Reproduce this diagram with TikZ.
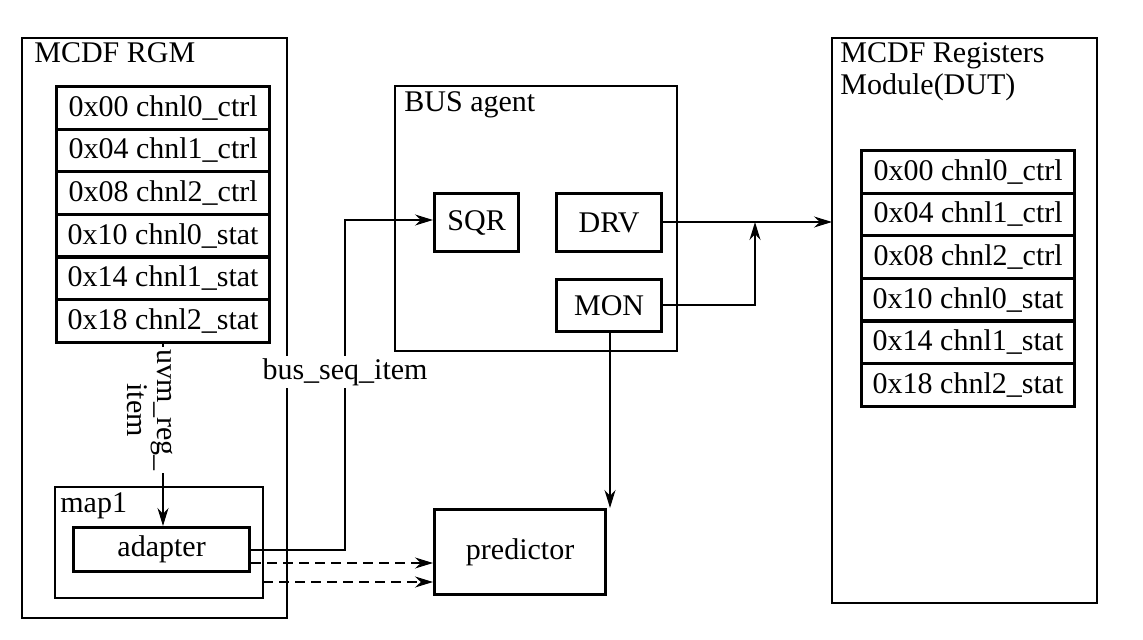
\documentclass[tikz,border=0pt]{standalone}
\usepackage{fontspec}
\setmainfont{Liberation Serif}
\usetikzlibrary{arrows.meta}
\begin{document}
\begin{tikzpicture}[x=0.5pt,y=-0.5pt,
  txt/.style={font=\fontsize{15}{16}\selectfont},
  box/.style={draw,line width=0.7pt},
  thk/.style={draw,line width=1.6pt,txt,inner sep=0pt,anchor=north west},
  reg/.style={thk,minimum width=106.5pt,minimum height=21.3pt},
  lbl/.style={txt,inner sep=0pt,anchor=north west},
  arr/.style={-{Stealth[length=9pt,width=5.5pt]},line width=0.7pt},
  dsh/.style={arr,dash pattern=on 5pt off 3pt}]
\useasboundingbox (0,0) rectangle (1143,640);
% MCDF RGM
\draw[box] (22,38) rectangle (287,618);
\node[lbl] (rgmlbl) at (34,42) {MCDF RGM};
\foreach \i/\t in {0/0x00 chnl0\_ctrl,1/0x04 chnl1\_ctrl,2/0x08 chnl2\_ctrl,3/0x10 chnl0\_stat,4/0x14 chnl1\_stat,5/0x18 chnl2\_stat}{
  \node[reg] (l\i) at (55,{85+\i*42.6}) {\t};
}
\draw[box] (55,487) rectangle (263,598);
\node[lbl] (map1) at (60,492) {map1};
\node[thk,minimum width=88pt,minimum height=22pt] (adp) at (72,526) {adapter};
% BUS agent
\draw[box] (395,86) rectangle (677,351);
\node[lbl] (buslbl) at (404,91) {BUS agent};
\node[thk,minimum width=42pt,minimum height=29pt] (sqr) at (433,192) {SQR};
\node[thk,minimum width=52.5pt,minimum height=29pt] (drv) at (555,192) {DRV};
\node[thk,minimum width=52.5pt,minimum height=26pt] (mon) at (555,278) {MON};
% predictor
\node[thk,minimum width=85.5pt,minimum height=42.5pt] (pred) at (433,508) {predictor};
% DUT
\draw[box] (832,38) rectangle (1097,603);
\node[lbl,align=left] (dutlbl) at (840,42) {MCDF Registers\\Module(DUT)};
\foreach \i/\t in {0/0x00 chnl0\_ctrl,1/0x04 chnl1\_ctrl,2/0x08 chnl2\_ctrl,3/0x10 chnl0\_stat,4/0x14 chnl1\_stat,5/0x18 chnl2\_stat}{
  \node[reg] (r\i) at (860,{149+\i*42.6}) {\t};
}
% connectors
\draw[arr] (l5.south -| 163,0) -- (adp.north -| 163,0);
\node[rotate=-90,align=center,fill=white,inner sep=1pt,font=\fontsize{15}{15}\selectfont] (uvm) at (150,410) {uvm\_reg\_\\item};
\coordinate (c1) at (345,550);
\coordinate (c2) at (345,220);
\draw[arr] (adp.east |- c1) -- (c1) -- (c2) -- (sqr.west |- c2);
\node[fill=white,inner sep=1pt,txt] (bsi) at (345,372) {bus\_seq\_item};
\draw[box] (395,351) -- (677,351);
\draw[dsh] (adp.east |- 0,563) -- (pred.west |- 0,563);
\draw[dsh] (263,582) -- (pred.west |- 0,582);
\draw[arr] (drv.east |- 0,222) -- (832,222);
\coordinate (m1) at (755,305);
\coordinate (m2) at (755,222);
\draw[arr] (mon.east |- m1) -- (m1) -- (m2);
\draw[arr] (mon.south -| 610,0) -- (pred.north -| 610,0);
\end{tikzpicture}
\end{document}
